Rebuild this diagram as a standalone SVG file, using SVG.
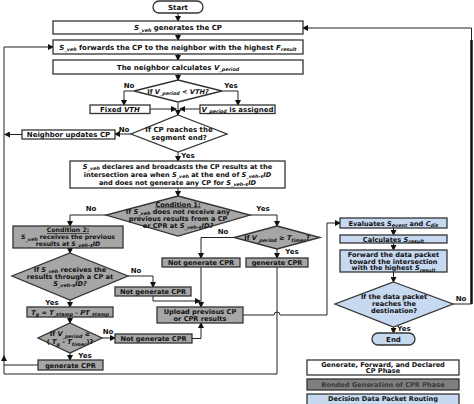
<svg xmlns="http://www.w3.org/2000/svg" width="474" height="404" viewBox="0 0 474 404">
<defs>
<style>
text{font-family:"DejaVu Sans","Open Sans",sans-serif;font-weight:700;font-size:7px;fill:#111;text-anchor:middle}
.i{font-style:italic}
.sb{font-size:4.8px;font-style:italic}
.sm{font-size:6.6px}
.xs{font-size:6.2px}
.w{fill:#fff;stroke:#333;stroke-width:1.3}
.g{fill:#a6a6a6;stroke:#333;stroke-width:1.3}
.b{fill:#c6d9f0;stroke:#333;stroke-width:1.3}
.dk{fill:#7f7f7f;stroke:#333;stroke-width:1.3}
.c{fill:none;stroke:#222;stroke-width:1}
.u{text-decoration:underline}
</style>
<marker id="a" markerUnits="userSpaceOnUse" markerWidth="6" markerHeight="6" refX="5" refY="3" orient="auto"><path d="M0,0 L6,3 L0,6 z" fill="#111"/></marker>
</defs>
<rect width="474" height="404" fill="#fff"/>

<g id="connectors">
<path class="c" d="M178,13 V21" marker-end="url(#a)"/>
<path class="c" d="M178,34 V40" marker-end="url(#a)"/>
<path class="c" d="M178,54 V60" marker-end="url(#a)"/>
<path class="c" d="M178,74 V80" marker-end="url(#a)"/>
<path class="c" d="M134,91 H124 V105" marker-end="url(#a)"/>
<path class="c" d="M222,91 H238 V105" marker-end="url(#a)"/>
<path class="c" d="M150,109 H176" marker-end="url(#a)"/>
<path class="c" d="M200,109 H180" marker-end="url(#a)"/>
<path class="c" d="M178,103 V115" marker-end="url(#a)"/>
<path class="c" d="M131,134 H115" marker-end="url(#a)"/>
<path class="c" d="M22,134.5 H5" marker-end="url(#a)"/>
<path class="c" d="M178,152 V161" marker-end="url(#a)"/>
<path class="c" d="M178,188 V196" marker-end="url(#a)"/>
<path class="c" d="M106,215 H70 V226" marker-end="url(#a)"/>
<path class="c" d="M250,215 H277 V226" marker-end="url(#a)"/>
<path class="c" d="M234,237.5 H201 V258" marker-end="url(#a)"/>
<path class="c" d="M277,249 V258" marker-end="url(#a)"/>
<path class="c" d="M201,267 V307" marker-end="url(#a)"/>
<path class="c" d="M70,248 V253" marker-end="url(#a)"/>
<path class="c" d="M128,276 H153 V287" marker-end="url(#a)"/>
<path class="c" d="M153,296 V301 H200" marker-end="url(#a)"/>
<path class="c" d="M70,300 V307" marker-end="url(#a)"/>
<path class="c" d="M70,317 V323" marker-end="url(#a)"/>
<path class="c" d="M102,338 H115" marker-end="url(#a)"/>
<path class="c" d="M192,338.5 H201 V323" marker-end="url(#a)"/>
<path class="c" d="M70,353 V360" marker-end="url(#a)"/>
<path class="c" d="M38,365 H4"/>
<path class="c" d="M277,267 V374 H4 V356" marker-end="url(#a)"/>
<path class="c" d="M4,357 V47 H53" marker-end="url(#a)"/>
<path class="c" d="M243,315 H274 a3,3 0 0 1 6,0 H327 V223 H340" marker-end="url(#a)"/>
<path class="c" d="M393.5,228 V235" marker-end="url(#a)"/>
<path class="c" d="M393.5,243 V250" marker-end="url(#a)"/>
<path class="c" d="M393.5,272 V282" marker-end="url(#a)"/>
<path class="c" d="M393.5,327 V333" marker-end="url(#a)"/>
<path class="c" d="M453,304 H471.5 V28 H303" marker-end="url(#a)"/>
<path d="M471.5,40 V304" stroke="#111" stroke-width="2.5" fill="none"/>
<text x="129" y="87.5">No</text>
<text x="231" y="87.5">Yes</text>
<text x="124" y="132">No</text>
<text x="188" y="158">Yes</text>
<text x="91" y="211">No</text>
<text x="263" y="211">Yes</text>
<text x="223" y="234">No</text>
<text x="292" y="254">Yes</text>
<text x="136" y="273">No</text>
<text x="52" y="305">Yes</text>
<text x="108" y="334">No</text>
<text x="85" y="358">Yes</text>
<text x="461" y="301">No</text>
<text x="404" y="331">Yes</text>
</g>

<g id="start"><rect class="w" x="153" y="1" width="50" height="12" rx="6"/><text x="178" y="9.8">Start</text></g>
<g id="gen-cp"><rect class="w" x="53" y="21" width="250" height="13"/><text x="178" y="30"><tspan class="i">S</tspan><tspan class="sb" dy="1.5">_veh</tspan><tspan dy="-1.5"> generates the CP</tspan></text></g>
<g id="forward-cp"><rect class="w" x="53" y="40" width="250" height="14"/><text x="178" y="49.5"><tspan class="i">S</tspan><tspan class="sb" dy="1.5">_veh</tspan><tspan dy="-1.5"> forwards the CP to the neighbor with the highest </tspan><tspan class="i">F</tspan><tspan class="sb" dy="1.5">result</tspan></text></g>
<g id="calc-v"><rect class="w" x="53" y="60" width="250" height="14"/><text x="178" y="69.5">The neighbor calculates <tspan class="i">V</tspan><tspan class="sb" dy="1.5">_period</tspan></text></g>
<g id="dec-vth"><polygon class="w" points="178,80 222,91 178,102 134,91"/><text x="178" y="93.5" class="sm">If <tspan class="i">V</tspan><tspan class="sb" dy="1.5">_period</tspan><tspan dy="-1.5"> &lt; </tspan><tspan class="i">VTH?</tspan></text></g>
<g id="fixed-vth"><rect class="w" x="90" y="105" width="60" height="8.5"/><text x="120" y="111.8">Fixed <tspan class="i">VTH</tspan></text></g>
<g id="v-assigned"><rect class="w" x="200" y="105" width="75" height="8.5"/><text x="237.5" y="111.8"><tspan class="i">V</tspan><tspan class="sb" dy="1.5">_period</tspan><tspan dy="-1.5"> is assigned</tspan></text></g>
<g id="dec-segment"><polygon class="w" points="178,115 227,134 178,152 131,134"/><text><tspan x="179" y="131.5">If CP reaches the</tspan><tspan x="179" y="139.5">segment end?</tspan></text></g>
<g id="neighbor-updates"><rect class="w" x="22" y="130" width="93" height="9"/><text x="68.5" y="137.2">Neighbor updates CP</text></g>
<g id="declare"><rect class="w" x="70" y="161" width="215" height="27"/>
<text class="sm"><tspan x="177.5" y="168.5"><tspan class="i">S</tspan><tspan class="sb" dy="1.5">_veh</tspan><tspan dy="-1.5"> declares and broadcasts the CP results at the</tspan></tspan><tspan x="177.5" y="176.5">intersection area when <tspan class="i">S</tspan><tspan class="sb" dy="1.5">_veh</tspan><tspan dy="-1.5"> at the end of </tspan><tspan class="i">S</tspan><tspan class="sb" dy="1.5">_veh-s</tspan><tspan class="i" dy="-1.5">ID</tspan></tspan><tspan x="177.5" y="184.5">and does not generate any CP for <tspan class="i">S</tspan><tspan class="sb" dy="1.5">_veh-s</tspan><tspan class="i" dy="-1.5">ID</tspan></tspan></text></g>
<g id="cond1"><polygon class="g" points="178,196 250,215 178,236 106,215"/>
<text class="sm"><tspan x="178" y="206.5" class="u">Condition 1:</tspan><tspan x="178" y="213.5">If <tspan class="i">S</tspan><tspan class="sb" dy="1.5">_veh</tspan><tspan dy="-1.5"> does not receive any</tspan></tspan><tspan x="178" y="220.5">previous results from a CP</tspan><tspan x="178" y="227.5">or CPR at <tspan class="i">S</tspan><tspan class="sb" dy="1.5">_veh-s</tspan><tspan class="i" dy="-1.5">ID?</tspan></tspan></text></g>
<g id="cond2"><rect class="g" x="13" y="226" width="110" height="22"/>
<text class="xs"><tspan x="68" y="232.3" class="u">Condition 2:</tspan><tspan x="68" y="239.3"><tspan class="i">S</tspan><tspan class="sb" dy="1.2">_veh</tspan><tspan dy="-1.2"> receives the previous</tspan></tspan><tspan x="68" y="246.2">results at <tspan class="i">S</tspan><tspan class="sb" dy="1.2">_veh-s</tspan><tspan class="i" dy="-1.2">ID</tspan></tspan></text></g>
<g id="dec-timer"><polygon class="g" points="277,226 320,237.5 277,249 234,237.5"/><text x="277" y="240" class="sm">If <tspan class="i">V</tspan><tspan class="sb" dy="1.5">_period</tspan><tspan dy="-1.5"> ≥ </tspan><tspan class="i">T</tspan><tspan class="sb" dy="1.5">timer</tspan><tspan dy="-1.5">?</tspan></text></g>
<g id="not-gen-1"><rect class="g" x="162" y="258" width="78" height="9"/><text x="201" y="265.2" class="sm">Not generate CPR</text></g>
<g id="gen-1"><rect class="g" x="246" y="258" width="62" height="9"/><text x="277" y="265.2" class="sm">generate CPR</text></g>
<g id="dec-through"><polygon class="g" points="70,253 128,276 70,300 12,276"/>
<text class="sm"><tspan x="70" y="271.5">If <tspan class="i">S</tspan><tspan class="sb" dy="1.5">_veh</tspan><tspan dy="-1.5"> receives the</tspan></tspan><tspan x="70" y="278.5">results through a CP at</tspan><tspan x="70" y="285.5"><tspan class="i">S</tspan><tspan class="sb" dy="1.5">_veh-s</tspan><tspan class="i" dy="-1.5">ID?</tspan></tspan></text></g>
<g id="not-gen-2"><rect class="g" x="115" y="287" width="76" height="9"/><text x="153" y="294.2" class="sm">Not generate CPR</text></g>
<g id="tg"><rect class="g" x="27" y="307" width="86" height="10"/><text x="70" y="314.5" class="sm"><tspan class="i">T</tspan><tspan class="sb" dy="1.5">g</tspan><tspan dy="-1.5" class="i"> = T</tspan><tspan class="sb" dy="1.5">_stamp</tspan><tspan dy="-1.5" class="i"> - PT</tspan><tspan class="sb" dy="1.5">_stamp</tspan></text></g>
<g id="dec-tg"><polygon class="g" points="70,323 102,338 70,353 38,338"/>
<text class="sm"><tspan x="70" y="336">If <tspan class="i">V</tspan><tspan class="sb" dy="1.5">_period</tspan><tspan dy="-1.5"> ≥</tspan></tspan><tspan x="70" y="344">( <tspan class="i">T</tspan><tspan class="sb" dy="1.5">g</tspan><tspan dy="-1.5"> - </tspan><tspan class="i">T</tspan><tspan class="sb" dy="1.5">timer</tspan><tspan dy="-1.5">)?</tspan></tspan></text></g>
<g id="not-gen-3"><rect class="g" x="115" y="334" width="77" height="9"/><text x="153.5" y="341.2" class="sm">Not generate CPR</text></g>
<g id="gen-2"><rect class="g" x="38" y="360" width="65" height="10"/><text x="70.5" y="367.6" class="sm">generate CPR</text></g>
<g id="upload"><rect class="g" x="157" y="307" width="86" height="16"/><text class="sm"><tspan x="200" y="313.7">Upload previous CP</tspan><tspan x="200" y="320.7">or CPR results</tspan></text></g>
<g id="evaluates"><rect class="b" x="340" y="218" width="107" height="10"/><text x="393.5" y="225.5" class="sm">Evaluates <tspan class="i">S</tspan><tspan class="sb" dy="1.5">event</tspan><tspan dy="-1.5"> and </tspan><tspan class="i">C</tspan><tspan class="sb" dy="1.5">dis</tspan></text></g>
<g id="calculates"><rect class="b" x="340" y="235" width="107" height="8"/><text x="393.5" y="241.5" class="sm">Calculates <tspan class="i">S</tspan><tspan class="sb" dy="1.5">result</tspan></text></g>
<g id="forward-data"><rect class="b" x="340" y="250" width="107" height="22"/>
<text class="sm"><tspan x="393.5" y="256.5">Forward the data packet</tspan><tspan x="393.5" y="263.5">toward the intersection</tspan><tspan x="393.5" y="270.3">with the highest <tspan class="i">S</tspan><tspan class="sb" dy="1.5">result</tspan></tspan></text></g>
<g id="dec-dest"><polygon class="b" points="393.5,282 453,304 393.5,327 335,304"/>
<text class="sm"><tspan x="394" y="299">If the data packet</tspan><tspan x="394" y="306">reaches the</tspan><tspan x="394" y="313">destination?</tspan></text></g>
<g id="end"><rect class="b" x="372" y="333" width="43" height="12" rx="6"/><text x="393.5" y="341.5">End</text></g>
<g id="legend-1"><rect class="w" x="307" y="360" width="152" height="15"/><text class="sm"><tspan x="383" y="366.5">Generate, Forward, and Declared</tspan><tspan x="383" y="373">CP Phase</tspan></text></g>
<g id="legend-2"><rect class="dk" x="307" y="379" width="152" height="11"/><text x="383" y="387" class="sm" style="fill:#3a3a3a">Bonded Generation of CPR Phase</text></g>
<g id="legend-3"><rect class="b" x="307" y="394" width="152" height="14"/><text x="383" y="401" class="sm">Decision Data Packet Routing</text></g>
</svg>
